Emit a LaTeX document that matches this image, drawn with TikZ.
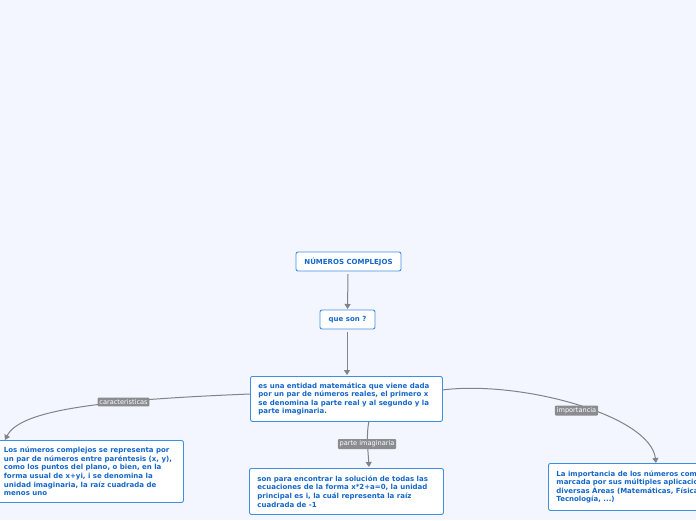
\documentclass[tikz,border=0pt]{standalone}
\usepackage{fontspec}
\setmainfont{DejaVu Sans}
\usetikzlibrary{arrows.meta}
\definecolor{bg}{HTML}{F3F6FE}
\definecolor{bd}{HTML}{3D8FE6}
\definecolor{tx}{HTML}{1466C8}
\definecolor{lab}{HTML}{8A8C8F}
\definecolor{ln}{HTML}{808489}
\newcommand{\bt}[2]{\parbox{#1}{\raggedright\hyphenpenalty=10000\exhyphenpenalty=10000 #2}}
\tikzset{x=1pt,y=-1pt,
 box/.style={draw=bd,line width=0.9pt,fill=white,rounded corners=2pt,font=\bfseries\fontsize{7}{8.6}\selectfont,text=tx,align=left,inner xsep=8pt,inner ysep=0pt,anchor=north west},
 lbl/.style={fill=lab,text=white,font=\fontsize{6.6}{7.5}\selectfont,inner sep=1.8pt,rounded corners=1pt},
 conn/.style={draw=ln,line width=1pt,-{Triangle[length=5pt,width=6pt]}}}
\begin{document}
\begin{tikzpicture}
\useasboundingbox (0,0) rectangle (696,520);
\clip (0,0) rectangle (696,520);
\fill[bg] (0,0) rectangle (696,520);
\node[box,minimum width=105pt,minimum height=19pt,align=center,anchor=center] (t) at (348.5,261.5) {NÚMEROS COMPLEJOS};
\node[box,minimum width=55pt,minimum height=19pt,align=center,anchor=center] (q) at (347.5,319.5) {que son ?};
\node[box,minimum width=192pt,minimum height=45pt] (m) at (250,376) {\bt{176pt}{es una entidad matemática que viene dada por un par de números reales, el primero x se denomina la parte real y al segundo y la parte imaginaria.}};
\node[box,minimum width=191pt,minimum height=62pt] (l) at (-8,440) {\bt{168pt}{Los números complejos se representa por un par de números entre paréntesis (x, y), como los puntos del plano, o bien, en la forma usual de x+yi, i se denomina la unidad imaginaria, la raíz cuadrada de menos uno}};
\node[box,minimum width=192pt,minimum height=46pt] (b) at (249,468) {\bt{178pt}{son para encontrar la solución de todas las ecuaciones de la forma x*2+a=0, la unidad principal es i, la cuál representa la raíz cuadrada de -1}};
\node[box,minimum width=200pt,minimum height=47pt] (r) at (548,463) {\bt{190pt}{La importancia de los números complejos está marcada por sus múltiples aplicaciones en diversas Áreas (Matemáticas, Física, Tecnología, ...)}};
\draw[conn] (348,274) -- (347.5,309);
\draw[conn] (347,332) -- (347,375);
\draw[conn] (250,394) .. controls (100,400) and (20,410) .. (5,440);
\draw[conn] (369,421) .. controls (366,435) and (368,450) .. (369,467);
\draw[conn] (442,390) .. controls (520,380) and (650,415) .. (656,463);
\node[lbl] at (123.5,402) {caracteristicas};
\node[lbl] at (367,444) {parte imaginaria};
\node[lbl] at (576.5,410.5) {importancia};
\end{tikzpicture}
\end{document}
